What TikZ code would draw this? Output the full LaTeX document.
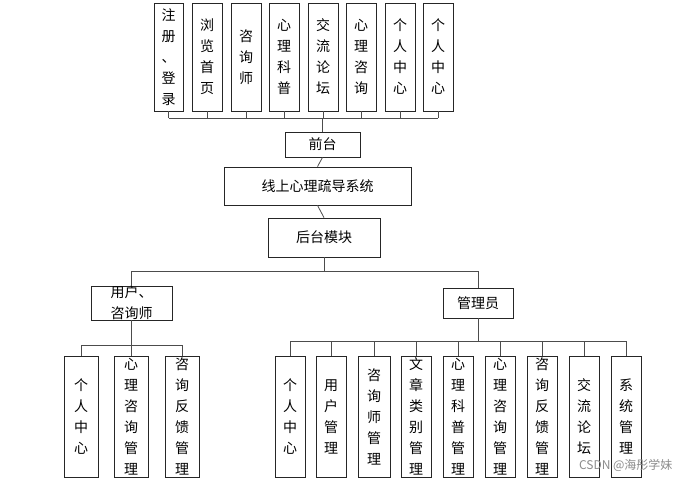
\documentclass[tikz,border=0pt]{standalone}
\usepackage{fontspec}
\setmainfont{Noto Sans CJK SC}
\begin{document}
\begin{tikzpicture}[x=1pt,y=-1pt,
  bx/.style={draw=black!85,line width=0.8pt,fill=white,inner sep=0pt,font=\fontsize{14}{21}\selectfont,align=center},
  ln/.style={draw=black!70,line width=0.8pt}]
\useasboundingbox (0,0) rectangle (690,483);
\newcommand\bxat[6]{\node[bx,minimum width={#3-#2},minimum height={#5-#4}] (#1) at ({(#2+#3)/2},{(#4+#5)/2}) {#6};}
% top
\bxat{t1}{154}{183}{3}{111}{注\\册\\、\\登\\录}
\bxat{t2}{192}{222}{3}{111}{浏\\览\\首\\页}
\bxat{t3}{231}{261}{3}{111}{咨\\询\\师}
\bxat{t4}{269}{299}{3}{111}{心\\理\\科\\普}
\bxat{t5}{308}{338}{3}{111}{交\\流\\论\\坛}
\bxat{t6}{346}{376}{3}{111}{心\\理\\咨\\询}
\bxat{t7}{385}{415}{3}{111}{个\\人\\中\\心}
\bxat{t8}{423}{453}{3}{111}{个\\人\\中\\心}
\bxat{qt}{285}{360}{132}{157}{前台}
\bxat{sys}{224}{411}{167}{205}{线上心理疏导系统}
\bxat{ht}{268}{380}{218}{257}{后台模块}
\bxat{user}{91}{172}{288}{318}{\fontsize{14}{17}\selectfont 用户、\\咨询师}
\bxat{adm}{443}{513}{288}{318}{管理员}
% left bottom
\bxat{l1}{64}{98}{356}{477}{个\\人\\中\\心}
\bxat{l2}{114}{148}{356}{477}{心\\理\\咨\\询\\管\\理}
\bxat{l3}{165}{199}{356}{477}{咨\\询\\反\\馈\\管\\理}
% right bottom
\bxat{r1}{275}{305}{356}{477}{个\\人\\中\\心}
\bxat{r2}{316}{346}{356}{477}{用\\户\\管\\理}
\bxat{r3}{358}{390}{356}{477}{咨\\询\\师\\管\\理}
\bxat{r4}{401}{431}{356}{477}{文\\章\\类\\别\\管\\理}
\bxat{r5}{443}{473}{356}{477}{心\\理\\科\\普\\管\\理}
\bxat{r6}{485}{515}{356}{477}{心\\理\\咨\\询\\管\\理}
\bxat{r7}{527}{557}{356}{477}{咨\\询\\反\\馈\\管\\理}
\bxat{r8}{569}{599}{356}{477}{交\\流\\论\\坛}
\bxat{r9}{611}{641}{356}{477}{系\\统\\管\\理}
% connectors
\coordinate (tb) at (qt.north |- 0,118);
\foreach \n in {t1,t2,t3,t4,t5,t6,t7,t8} \draw[ln] (\n.south) -- (\n.south |- tb);
\draw[ln] (t1.south |- tb) -- (t8.south |- tb);
\draw[ln] (tb) -- (qt.north);
\draw[ln] (qt.south) -- (sys.north);
\draw[ln] (sys.south) -- (ht.north);
\coordinate (mb) at (ht.south |- 0,271);
\draw[ln] (ht.south) -- (mb);
\draw[ln] (user.north |- mb) -- (adm.north |- mb);
\draw[ln] (user.north |- mb) -- (user.north);
\draw[ln] (adm.north |- mb) -- (adm.north);
\coordinate (lb) at (user.south |- 0,345);
\draw[ln] (user.south) -- (lb);
\draw[ln] (l1.north |- lb) -- (l3.north |- lb);
\foreach \n in {l1,l2,l3} \draw[ln] (\n.north |- lb) -- (\n.north);
\coordinate (rb) at (adm.south |- 0,341);
\draw[ln] (adm.south) -- (rb);
\draw[ln] (r1.north |- rb) -- (r9.north |- rb);
\foreach \n in {r1,r2,r3,r4,r5,r6,r7,r8,r9} \draw[ln] (\n.north |- rb) -- (\n.north);
\node[text=black!45,font=\fontsize{12}{14}\selectfont,anchor=east] (wm) at (676,465) {CSDN @海彤学妹};
\end{tikzpicture}
\end{document}
